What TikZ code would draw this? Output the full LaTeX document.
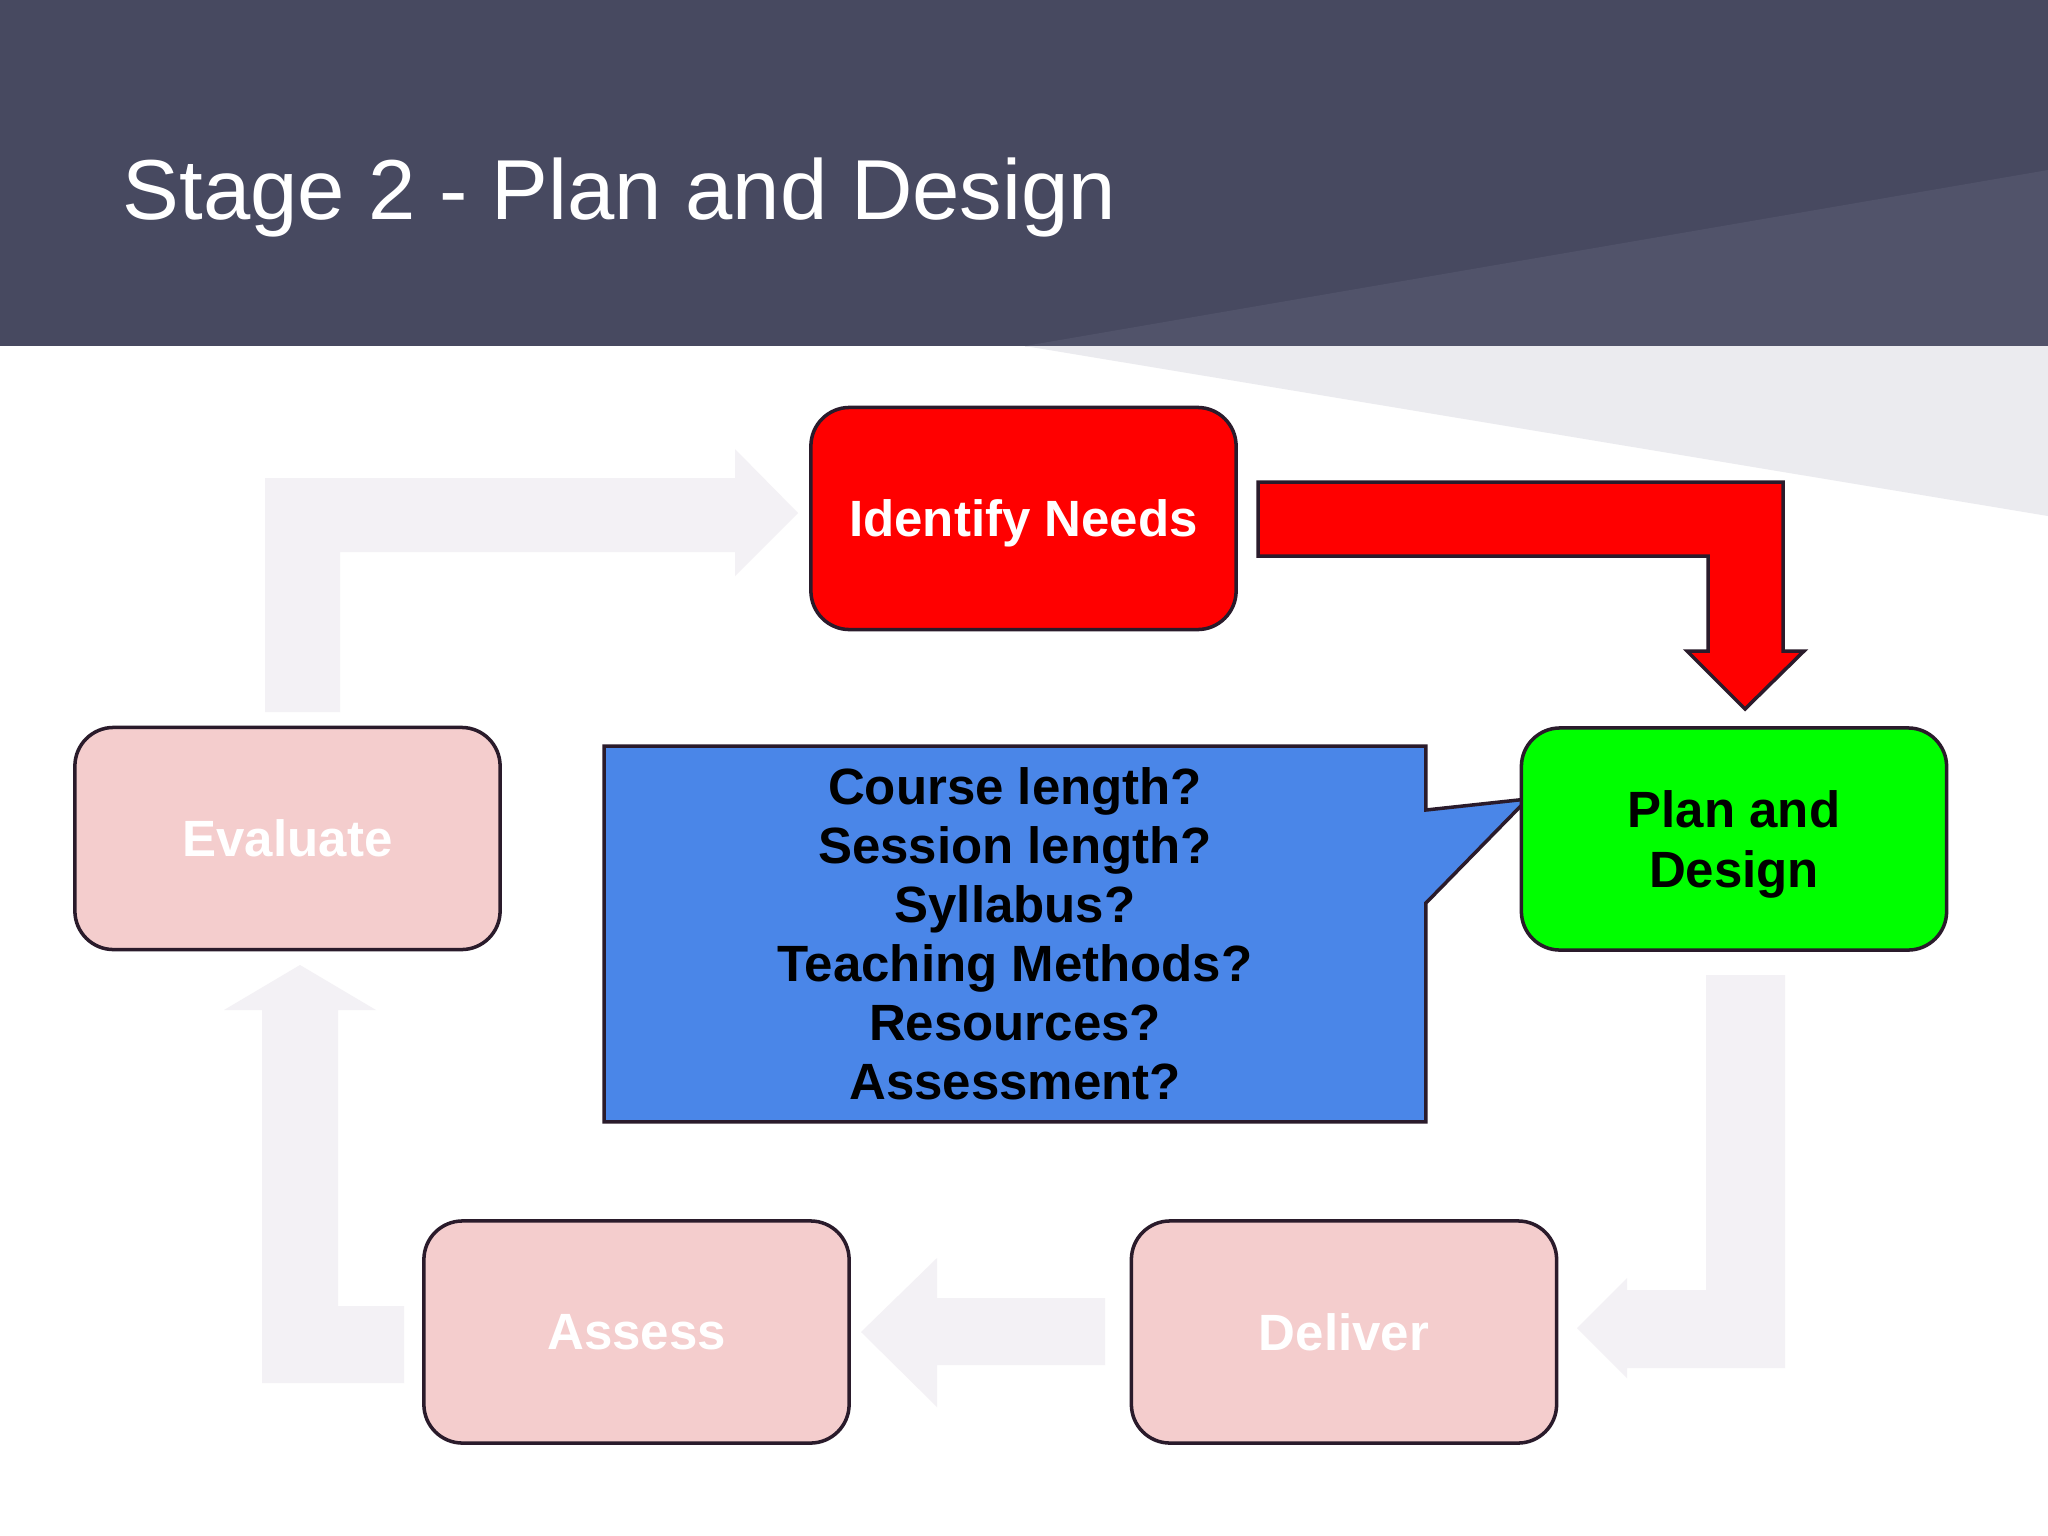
\documentclass[tikz,border=0pt]{standalone}
\usepackage{fontspec}
\setmainfont{Liberation Sans}
\usetikzlibrary{backgrounds}
\definecolor{cHead}{HTML}{474960}
\definecolor{cHeadLight}{HTML}{51536A}
\definecolor{cWedge}{HTML}{EBEBEF}
\definecolor{cGhost}{HTML}{F3F1F5}
\definecolor{cEdge}{HTML}{2A1B2B}
\definecolor{cRed}{HTML}{FF0000}
\definecolor{cGreen}{HTML}{00FF00}
\definecolor{cBlue}{HTML}{4A86E8}
\definecolor{cPink}{HTML}{F4CDCD}
\tikzset{
  stagebox/.style={
    draw=cEdge, line width=1pt, rounded corners=11pt,
    minimum width=4.25cm, minimum height=2.22cm, inner sep=0pt,
    text depth=0pt,
    align=center, font=\bfseries\fontsize{14.5}{16.8}\selectfont,
  },
  donebox/.style={
    stagebox, fill=cPink, text=white,
  },
  ghostarr/.style={
    fill=cGhost, draw=none,
  },
  bigarr/.style={
    fill=cRed, draw=cEdge, line width=1pt, line join=miter,
  },
  callout/.style={
    fill=cBlue, draw=cEdge, line width=1pt, line join=miter,
  },
}

\begin{document}
\begin{tikzpicture}[x=0.01cm, y=-0.01cm]

\useasboundingbox (0,0) rectangle (2048,1536);

% ═══════════════════════════════════════════════════════════════
%  STAGE BOXES  (pixel grid, y grows downwards)
% ═══════════════════════════════════════════════════════════════
\node[stagebox, fill=cRed, text=white] (need) at (1023.5,518.5)
  {Identify Needs};
\node[stagebox, fill=cGreen, text=black] (plan) at (1734,839)
  {Plan and\\Design};
\node[donebox] (deliver) at (1344,1332)
  {Deliver};
\node[donebox] (assess) at (636.5,1332)
  {Assess};
\node[donebox] (eval) at (287.5,838.5)
  {Evaluate};

% ── questions for this stage ──
\node[align=center, inner sep=0pt, minimum width=8.2cm, minimum height=3.74cm,
      font=\bfseries\fontsize{14.5}{16.8}\selectfont] (quest) at (1015,934)
  {Course length?\\Session length?\\Syllabus?\\Teaching Methods?\\Resources?\\Assessment?};
\path (plan.west |- 0,799) ++(8,0) coordinate (tip);

% ── title ──
\node[anchor=base west, text=white, inner sep=0pt,
      font=\fontsize{24.2}{29}\selectfont] (title) at (122,219)
  {Stage 2 - Plan and Design};

% ═══════════════════════════════════════════════════════════════
%  BACKGROUND: header, faded cycle arrows, callout
% ═══════════════════════════════════════════════════════════════
\begin{scope}[on background layer]
  \fill[white] (0,0) rectangle (2048,1536);
  \fill[cHead] (0,0) rectangle (2048,346);
  \fill[cHeadLight] (1025,346) -- (2048,170) -- (2048,346) -- cycle;
  \fill[cWedge] (1025,346) -- (2048,346) -- (2048,516) -- cycle;

  % eval -> need
  \fill[ghostarr] (265,712) -- (265,478) -- (735,478) -- (735,449)
    -- (798,513) -- (735,576) -- (735,552) -- (340,552) -- (340,712) -- cycle;
  % plan -> deliver
  \fill[ghostarr] (1706,975) -- (1785,975) -- (1785,1368) -- (1627,1368)
    -- (1627,1378) -- (1577,1328) -- (1627,1278) -- (1627,1290) -- (1706,1290) -- cycle;
  % deliver -> assess
  \fill[ghostarr] (1105,1298) -- (937,1298) -- (937,1258) -- (861,1332)
    -- (937,1407) -- (937,1365) -- (1105,1365) -- cycle;
  % assess -> eval
  \fill[ghostarr] (404,1306) -- (338,1306) -- (338,1010) -- (376,1010)
    -- (300,965) -- (224,1010) -- (262,1010) -- (262,1383) -- (404,1383) -- cycle;

  % callout round the questions
  \draw[callout] (quest.north west) -- (quest.north east) -- (quest.east |- 0,810)
    -- (tip) -- (quest.east |- 0,903) -- (quest.south east) -- (quest.south west) -- cycle;
\end{scope}

% ═══════════════════════════════════════════════════════════════
%  ACTIVE STEP: need -> plan
% ═══════════════════════════════════════════════════════════════
\draw[bigarr] (1258,482) -- (1783,482) -- (1783,651) -- (1804,651) -- (1745,709)
  -- (1687,651) -- (1708,651) -- (1708,556) -- (1258,556) -- cycle;

\end{tikzpicture}
\end{document}
